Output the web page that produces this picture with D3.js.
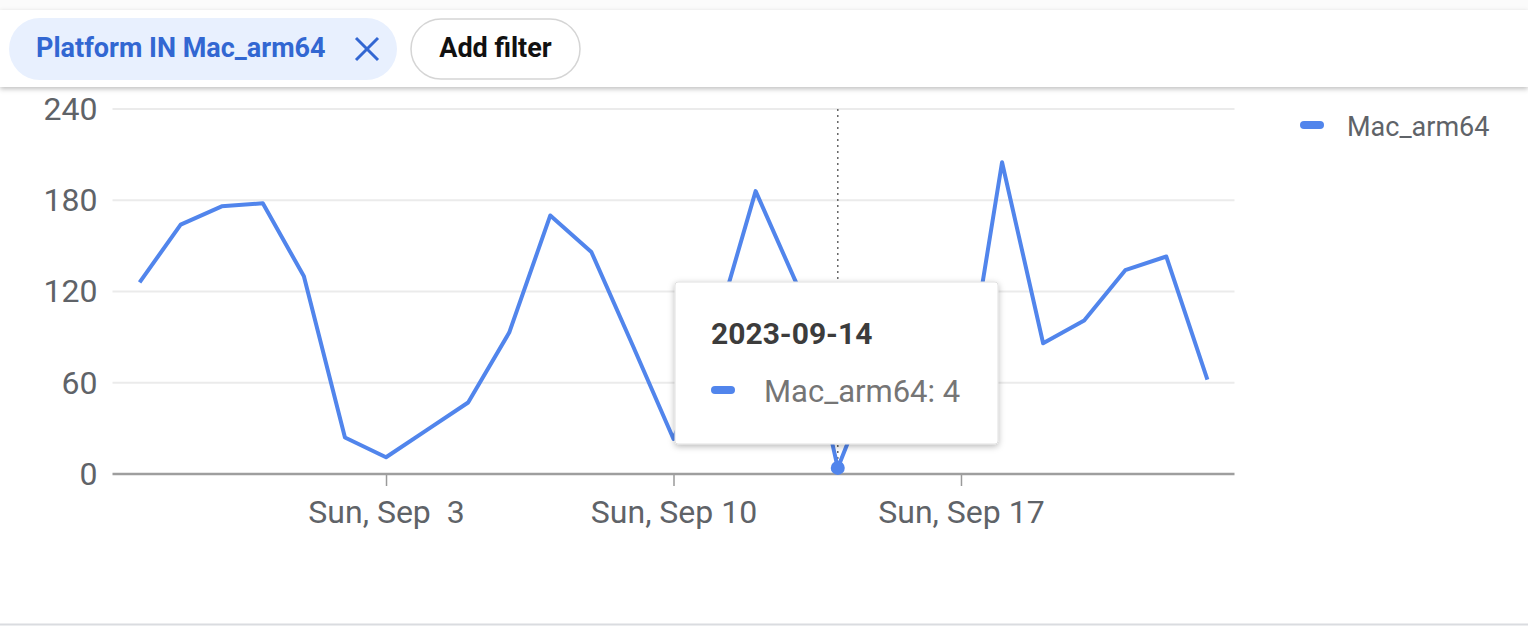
<!DOCTYPE html>
<html><head><meta charset="utf-8">
<script src="https://cdn.jsdelivr.net/npm/d3@7"></script>
<style>
html,body{margin:0;padding:0;background:#fff;overflow:hidden;}
svg{display:block;font-family:Roboto,"Noto Sans",sans-serif;}
</style></head>
<body>
<svg id="chart" width="1528" height="626"></svg>
<script>
const dates = ["2023-08-28","2023-08-29","2023-08-30","2023-08-31","2023-09-01","2023-09-02","2023-09-03","2023-09-04","2023-09-05","2023-09-06","2023-09-07","2023-09-08","2023-09-09","2023-09-10","2023-09-11","2023-09-12","2023-09-13","2023-09-14","2023-09-15","2023-09-16","2023-09-17","2023-09-18","2023-09-19","2023-09-20","2023-09-21","2023-09-22","2023-09-23"];
const values = [126,164,176,178,130,24,11,29,47,93,170,146,85,23,93,186,125,4,72,30,38,205,86,101,134,143,62];
const seriesName = "Mac_arm64";
const yTicks = [0,60,120,180,240];
const xTickDates = ["2023-09-03","2023-09-10","2023-09-17"];
const hoverDate = "2023-09-14";
const filterLabel = "Platform IN Mac_arm64";
const buttonLabel = "Add filter";

const parse = d3.utcParse("%Y-%m-%d");
const data = dates.map((d,i)=>({date:parse(d), value:values[i]}));
const DAY = 86400000;
const pad = 0.66*DAY;
const color = "#5185ec";

const svg = d3.select("#chart");
const pLeft = 112.5, pRight = 1234.5, pTop = 109, pBottom = 474;
const x = d3.scaleUtc().domain([new Date(+data[0].date - pad), new Date(+data[data.length-1].date + pad)]).range([pLeft,pRight]);
const y = d3.scaleLinear().domain([0,240]).range([pBottom,pTop]);

// header
const defs = svg.append("defs");
const f = defs.append("filter").attr("id","sh").attr("x","-20%").attr("y","-20%").attr("width","140%").attr("height","160%");
f.append("feDropShadow").attr("dx",0).attr("dy",2).attr("stdDeviation",3).attr("flood-color","#000").attr("flood-opacity",0.28);
const f2 = defs.append("filter").attr("id","hsh").attr("x","-5%").attr("y","-50%").attr("width","110%").attr("height","200%");
f2.append("feDropShadow").attr("dx",0).attr("dy",2).attr("stdDeviation",2.5).attr("flood-color","#000").attr("flood-opacity",0.25);

svg.append("rect").attr("x",0).attr("y",0).attr("width",1528).attr("height",12).attr("fill","#fbfbfb");
svg.append("rect").attr("x",0).attr("y",10).attr("width",1528).attr("height",77).attr("fill","#fff").attr("filter","url(#hsh)");

// chip
svg.append("rect").attr("x",9).attr("y",18).attr("width",388).attr("height",62).attr("rx",31).attr("fill","#e8f0fe");
svg.append("text").attr("x",36).attr("y",57).attr("font-size",27).attr("font-weight",700).attr("fill","#3267d2").text(filterLabel);
const xi = svg.append("g").attr("stroke","#3267d2").attr("stroke-width",3).attr("stroke-linecap","butt");
xi.append("line").attr("x1",356).attr("y1",38).attr("x2",378).attr("y2",60);
xi.append("line").attr("x1",378).attr("y1",38).attr("x2",356).attr("y2",60);
// button
svg.append("rect").attr("x",411).attr("y",19).attr("width",169).attr("height",60).attr("rx",30).attr("fill","#fff").attr("stroke","#d5d5d5").attr("stroke-width",1.5);
svg.append("text").attr("x",495.5).attr("y",57).attr("text-anchor","middle").attr("font-size",27).attr("font-weight",700).attr("fill","#111").text(buttonLabel);

// grid
svg.append("g").selectAll("line").data(yTicks.filter(d=>d>0)).join("line")
  .attr("x1",pLeft).attr("x2",pRight).attr("y1",d=>y(d)).attr("y2",d=>y(d))
  .attr("stroke","#ebebeb").attr("stroke-width",2);

// y axis labels
const yAxis = svg.append("g").attr("transform",`translate(${pLeft},0)`)
  .call(d3.axisLeft(y).tickValues(yTicks).tickSize(0).tickPadding(15));
yAxis.select(".domain").remove();
yAxis.selectAll("text").attr("font-size",32).attr("fill","#5f6368").attr("font-family","Roboto");

// x axis
const xAxis = svg.append("g").attr("transform",`translate(0,${pBottom})`)
  .call(d3.axisBottom(x).tickValues(xTickDates.map(parse)).tickSize(12).tickPadding(14)
    .tickFormat(d=>d3.utcFormat("%a, %b %e")(d)));
xAxis.select(".domain").remove();
xAxis.selectAll(".tick line").attr("stroke","#9a9a9a").attr("stroke-width",1.5);
xAxis.selectAll("text").attr("font-size",32).attr("fill","#5f6368").attr("font-family","Roboto").style("white-space","pre");
svg.append("line").attr("x1",pLeft).attr("x2",pRight).attr("y1",pBottom).attr("y2",pBottom).attr("stroke","#9e9e9e").attr("stroke-width",2.5);

// hover line
const hd = parse(hoverDate);
svg.append("line").attr("x1",x(hd)).attr("x2",x(hd)).attr("y1",pTop).attr("y2",pBottom)
  .attr("stroke","#666").attr("stroke-width",1.5).attr("stroke-dasharray","2,4");

// line
svg.append("path").datum(data)
  .attr("d", d3.line().x(d=>x(d.date)).y(d=>y(d.value)))
  .attr("fill","none").attr("stroke",color).attr("stroke-width",4).attr("stroke-linejoin","round");

const hp = data.find(d=>+d.date===+hd);
svg.append("circle").attr("cx",x(hp.date)).attr("cy",y(hp.value)).attr("r",7).attr("fill",color);

// legend
svg.append("line").attr("x1",1304).attr("x2",1320).attr("y1",125).attr("y2",125).attr("stroke",color).attr("stroke-width",8).attr("stroke-linecap","round");
svg.append("text").attr("x",1347).attr("y",136).attr("font-size",27).attr("fill","#5f6368").text(seriesName);

// tooltip
const tx = 675, ty = 282;
svg.append("rect").attr("x",tx).attr("y",ty).attr("width",323).attr("height",162).attr("rx",3).attr("fill","#fff").attr("stroke","#e0e0e0").attr("stroke-width",1).attr("filter","url(#sh)");
svg.append("text").attr("x",tx+36).attr("y",ty+62).attr("font-size",30).attr("font-weight",700).attr("fill","#3c3c3c").text(hoverDate);
svg.append("line").attr("x1",tx+40).attr("x2",tx+56).attr("y1",ty+108).attr("y2",ty+108).attr("stroke",color).attr("stroke-width",8).attr("stroke-linecap","round");
svg.append("text").attr("x",tx+89).attr("y",ty+120).attr("font-size",31).attr("fill","#757575").text(`${seriesName}: ${hp.value}`);

// bottom border
svg.append("line").attr("x1",0).attr("x2",1528).attr("y1",624.5).attr("y2",624.5).attr("stroke","#dadce0").attr("stroke-width",2);
</script>
</body></html>
